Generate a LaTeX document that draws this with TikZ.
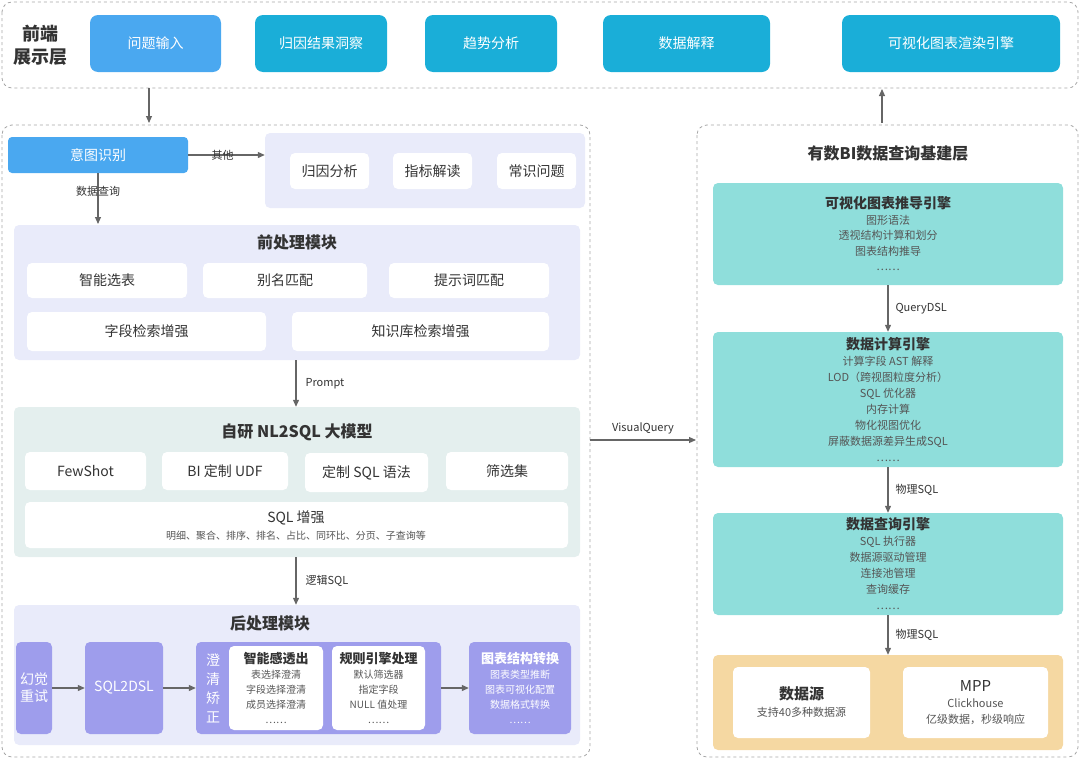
\documentclass[tikz,border=0pt]{standalone}
\usepackage{fontspec}
\setmainfont{Noto Sans CJK SC}
\usetikzlibrary{arrows.meta}
\definecolor{blueA}{HTML}{4AA8F0}
\definecolor{blueB}{HTML}{1AAED8}
\definecolor{lav}{HTML}{E9EBFA}
\definecolor{tealbg}{HTML}{E4EFEE}
\definecolor{teal}{HTML}{8FDEDB}
\definecolor{purp}{HTML}{9E9DEC}
\definecolor{sand}{HTML}{F5D8A2}
\definecolor{txt}{HTML}{333333}
\definecolor{sub}{HTML}{555555}
\newcommand\bx[7]{\node[#6, minimum width={#4pt-#2pt}, minimum height={#5pt-#3pt}] (#1) at ({(#2+#4)/2},{(#3+#5)/2}) {#7};}
\newcommand\hd[2]{{\bfseries\fontsize{#1}{#1}\selectfont #2}}
\tikzset{
 base/.style={rounded corners=5pt, inner sep=0pt, align=center, draw=none, text=txt},
 btn/.style={base, rounded corners=8pt, text=white, font=\fontsize{14}{16}\selectfont},
 panel/.style={base, fill=lav},
 wb/.style={base, fill=white, font=\fontsize{14}{16}\selectfont},
 tb/.style={base, fill=teal},
 pb/.style={base, fill=purp, text=white, font=\fontsize{14}{17}\selectfont},
 frame/.style={draw=gray!70, dashed, rounded corners=10pt, line width=0.8pt},
 arr/.style={-{Triangle[length=7pt,width=6pt]}, draw=gray!80!black, line width=1.1pt},
 lbl/.style={font=\fontsize{11}{13}\selectfont, text=txt, inner sep=1pt},
 ttl/.style={font=\bfseries\fontsize{16}{18}\selectfont, text=txt},
}
\begin{document}
\begin{tikzpicture}[x=1pt,y=-1pt]
\useasboundingbox (0,0) rectangle (1080,763);
% frames
\draw[frame] (2,2) rectangle (1078,88);
\draw[frame] (2,125) rectangle (590,757);
\draw[frame] (697,125) rectangle (1078,757);
% top
\node[font=\bfseries\fontsize{18}{23}\selectfont, text=txt, align=center] (front) at (40,45) {前端\\展示层};
\bx{q}{90}{15}{221}{72}{btn,fill=blueA}{问题输入}
\bx{gy}{255}{15}{387}{72}{btn,fill=blueB}{归因结果洞察}
\bx{qs}{425}{15}{557}{72}{btn,fill=blueB}{趋势分析}
\bx{js}{603}{15}{770}{72}{btn,fill=blueB}{数据解释}
\bx{xr}{842}{15}{1060}{72}{btn,fill=blueB}{可视化图表渲染引擎}
\coordinate (t1) at (149,88); \coordinate (t2) at (149,123);
\draw[arr] (t1) -- (t2);
\coordinate (r1) at (882,123); \coordinate (r2) at (882,89);
\draw[arr] (r1) -- (r2);
% intent
\bx{yt}{8}{137}{188}{173}{btn,rounded corners=4pt,fill=blueA}{意图识别}
\bx{other}{265}{133}{585}{208}{panel}{}
\bx{o1}{290}{153}{369}{189}{wb}{归因分析}
\bx{o2}{393}{153}{472}{189}{wb}{指标解读}
\bx{o3}{497}{153}{576}{189}{wb}{常识问题}
\draw[arr] (yt.east) -- node[lbl, pos=0.45]{其他} (other.west|-yt.east);
% pre
\bx{pre}{14}{225}{580}{360}{panel}{}
\node[ttl] (pret) at (297,242) {前处理模块};
\coordinate (d1) at (98,173);
\draw[arr] (d1) -- node[lbl, pos=0.35]{数据查询} (98,224);
\bx{p1}{27}{263}{187}{298}{wb}{智能选表}
\bx{p2}{203}{263}{367}{298}{wb}{别名匹配}
\bx{p3}{389}{263}{549}{298}{wb}{提示词匹配}
\bx{p4}{27}{312}{266}{351}{wb}{字段检索增强}
\bx{p5}{292}{312}{549}{351}{wb}{知识库检索增强}
% nl2sql
\bx{nl}{14}{407}{580}{557}{base,fill=tealbg}{}
\node[ttl] (nlt) at (297,432) {自研 NL2SQL 大模型};
\draw[arr] (pre.south-|296,0) -- node[lbl, right=8pt]{Prompt} (nl.north-|296,0);
\bx{n1}{25}{452}{146}{490}{wb}{FewShot}
\bx{n2}{162}{452}{288}{490}{wb}{BI 定制 UDF}
\bx{n3}{305}{453}{428}{492}{wb}{定制 SQL 语法}
\bx{n4}{446}{452}{568}{490}{wb}{筛选集}
\bx{n5}{25}{502}{568}{548}{wb}{}
\node[text=txt, font=\fontsize{14}{16}\selectfont] (n5a) at (296,518) {SQL 增强};
\node[text=sub, font=\fontsize{10}{12}\selectfont] (n5b) at (296,536) {明细、聚合、排序、排名、占比、同环比、分页、子查询等};
% post
\bx{post}{14}{605}{580}{745}{panel}{}
\node[ttl] (postt) at (270,623) {后处理模块};
\draw[arr] (nl.south-|296,0) -- node[lbl, right=8pt]{逻辑SQL} (post.north-|296,0);
\bx{h1}{16}{642}{52}{734}{pb}{幻觉\\重试}
\bx{h2}{85}{642}{163}{734}{pb}{SQL2DSL}
\bx{h3}{196}{642}{441}{734}{pb}{}
\node[text=white, font=\fontsize{14}{19}\selectfont, align=center] (cq) at (213,688) {澄\\清\\矫\\正};
\bx{h4}{229}{646}{323}{730}{wb}{}
\node[align=center, text=sub, font=\fontsize{10}{15}\selectfont] (h4t) at (h4) {\textcolor{txt}{\hd{13}{智能感透出}}\\表选择澄清\\字段选择澄清\\成员选择澄清\\……};
\bx{h5}{332}{646}{425}{730}{wb}{}
\node[align=center, text=sub, font=\fontsize{10}{15}\selectfont] (h5t) at (h5) {\textcolor{txt}{\hd{13}{规则引擎处理}}\\默认筛选器\\指定字段\\NULL 值处理\\……};
\bx{h6}{469}{642}{571}{734}{pb}{}
\node[align=center, text=white, font=\fontsize{10}{15}\selectfont] (h6t) at (h6) {\hd{13}{图表结构转换}\\图表类型推断\\图表可视化配置\\数据格式转换\\……};
\draw[arr] (h1.east) -- (h2.west);
\draw[arr] (h2.east) -- (h3.west);
\draw[arr] (h3.east) -- (h6.west);
% right
\node[ttl] (rt) at (888,154) {有数BI数据查询基建层};
\bx{e1}{713}{183}{1063}{285}{tb}{}
\node[align=center, text=sub, font=\fontsize{11}{15.5}\selectfont] (e1t) at (e1) {\textcolor{txt}{\hd{14}{可视化图表推导引擎}}\\图形语法\\透视结构计算和划分\\图表结构推导\\……};
\bx{e2}{713}{332}{1063}{467}{tb}{}
\node[align=center, text=sub, font=\fontsize{11}{16}\selectfont] (e2t) at (e2) {\textcolor{txt}{\hd{14}{数据计算引擎}}\\计算字段 AST 解释\\LOD（跨视图粒度分析）\\SQL 优化器\\内存计算\\物化视图优化\\屏蔽数据源差异生成SQL\\……};
\bx{e3}{713}{513}{1063}{615}{tb}{}
\node[align=center, text=sub, font=\fontsize{11}{16}\selectfont] (e3t) at (e3) {\textcolor{txt}{\hd{14}{数据查询引擎}}\\SQL 执行器\\数据源驱动管理\\连接池管理\\查询缓存\\……};
\bx{e4}{713}{655}{1063}{750}{base,fill=sand}{}
\bx{s1}{733}{667}{870}{738}{wb}{}
\node[align=center, text=sub, font=\fontsize{11}{17}\selectfont] (s1t) at (s1) {\textcolor{txt}{\hd{15}{数据源}}\\支持40多种数据源};
\bx{s2}{903}{667}{1048}{738}{wb}{}
\node[align=center, text=sub, font=\fontsize{11}{16}\selectfont] (s2t) at (s2) {\textcolor{txt}{\fontsize{15}{15}\selectfont MPP}\\Clickhouse\\亿级数据，秒级响应};
\draw[arr] (e1.south-|888,0) -- node[lbl, right=6pt]{QueryDSL} (e2.north-|888,0);
\draw[arr] (e2.south-|888,0) -- node[lbl, right=6pt]{物理SQL} (e3.north-|888,0);
\draw[arr] (e3.south-|888,0) -- node[lbl, right=6pt]{物理SQL} (e4.north-|888,0);
\coordinate (v1) at (590,440); \coordinate (v2) at (696,440);
\draw[arr] (v1) -- node[lbl, above=4pt]{VisualQuery} (v2);
\end{tikzpicture}
\end{document}
